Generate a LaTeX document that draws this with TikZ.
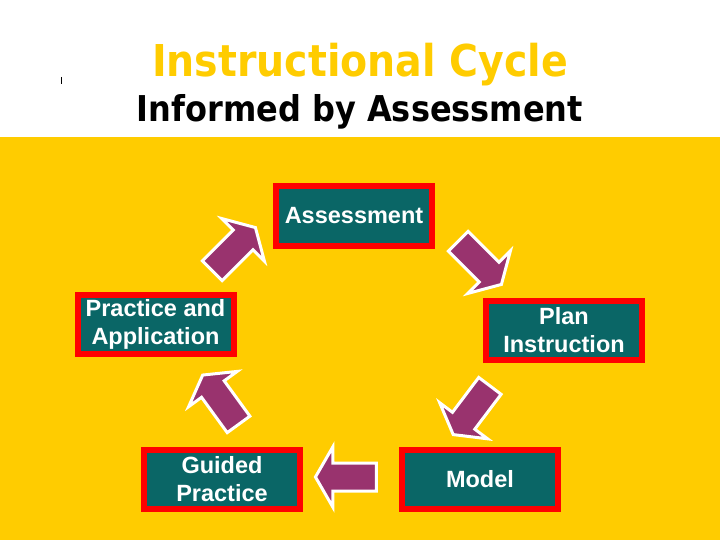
\documentclass[tikz,border=0pt]{standalone}
\usepackage{fontspec}
\setmainfont{Liberation Sans}
\newfontfamily\headfont{DejaVu Sans Condensed}
\usetikzlibrary{shapes}
\definecolor{gold}{RGB}{255,204,0}
\definecolor{boxteal}{RGB}{10,102,102}
\definecolor{plum}{RGB}{153,51,110}

\tikzset{
  stage/.style={draw=red, line width=6pt, fill=boxteal, text=white,
    font=\bfseries\fontsize{23.5}{28}\selectfont, align=center,
    minimum width=156pt, minimum height=59pt, inner sep=0pt},
  turn/.style={single arrow, draw=white, line width=3pt, fill=plum,
    minimum height=61pt, minimum width=57pt, single arrow head extend=16pt,
    single arrow tip angle=120, inner xsep=0pt, inner ysep=12.5pt}
}

\begin{document}
\begin{tikzpicture}[x=1pt,y=-1pt]
\useasboundingbox (0,0) rectangle (720,540);

% Background
\fill[white] (0,0) rectangle (720,137);
\fill[gold] (0,137) rectangle (720,540);
\draw[line width=1pt] (61,77) -- (61,84);

% Title
\node[anchor=base, text=gold, font=\headfont\bfseries\fontsize{41}{48}\selectfont] (title) at (360,77) {\resizebox{416pt}{!}{Instructional Cycle}};
\node[anchor=base, font=\headfont\bfseries\fontsize{37}{44}\selectfont] (subtitle) at (360,122) {\resizebox{446pt}{!}{Informed by Assessment}};

% Stages
\node[stage] (assess) at (354,216) {Assessment};
\node[stage] (plan) at (564,330) {Plan\\Instruction};
\node[stage] (model) at (480,479.5) {Model};
\node[stage] (guided) at (222,479.5) {Guided\\Practice};
\node[stage] (practice) at (155.5,324) {Practice and\\Application};

% Arrows between stages
\node[turn, rotate=45] (toassess) at (231,252) {};
\node[turn, rotate=-45] (toplan) at (477,260) {};
\node[turn, rotate=233] (tomodel) at (474,407) {};
\node[turn, rotate=180] (toguided) at (350,477) {};
\node[turn, rotate=126] (topractice) at (223,403) {};

\end{tikzpicture}
\end{document}
